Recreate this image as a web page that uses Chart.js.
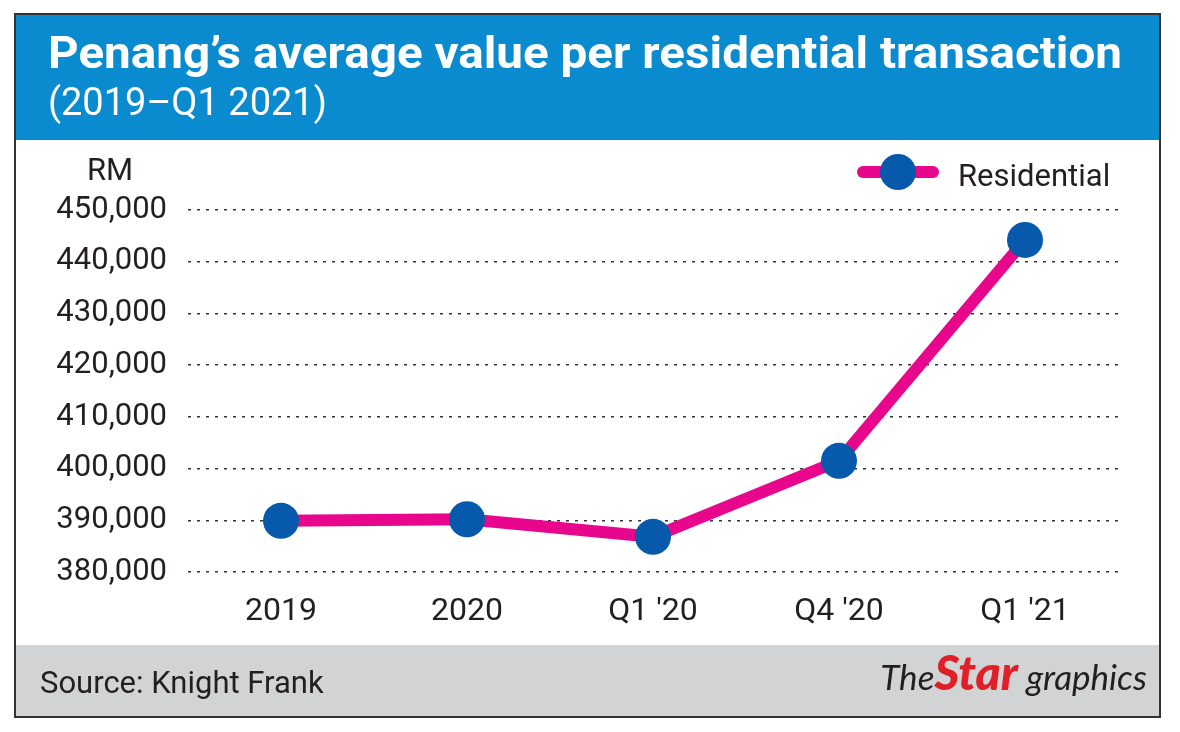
<!DOCTYPE html>
<html>
<head>
<meta charset="utf-8">
<script src="https://cdn.jsdelivr.net/npm/chart.js@4"></script>
<style>
  html, body { margin: 0; padding: 0; background: #fff; }
  #wrap { width: 1180px; height: 732px; position: relative; }
</style>
</head>
<body>
<div id="wrap"><canvas id="grafico" width="1180" height="732"></canvas></div>
<script>
// dados do gráfico
const periodos = ["2019", "2020", "Q1 '20", "Q4 '20", "Q1 '21"];
const valoresResidencial = [389900, 390200, 386800, 401500, 444200];
const ticksY = [380000, 390000, 400000, 410000, 420000, 430000, 440000, 450000];

const titulo = "Penang’s average value per residential transaction";
const subtitulo = "(2019–Q1 2021)";
const fonte = "Source: Knight Frank";

const corRosa = "#e8078c";
const corAzul = "#0659ab";
const corCabecalho = "#0b8bcf";
const corRodape = "#d1d3d4";
const corTexto = "#231f20";

// moldura, cabeçalho e rodapé
const moldura = {
  id: "moldura",
  beforeDraw(chart) {
    const ctx = chart.ctx;
    ctx.save();
    ctx.fillStyle = "#fff";
    ctx.fillRect(0, 0, chart.width, chart.height);
    ctx.fillStyle = corCabecalho;
    ctx.fillRect(15, 14, 1145, 126);
    ctx.fillStyle = corRodape;
    ctx.fillRect(15, 645, 1145, 72);
    ctx.strokeStyle = "#333";
    ctx.lineWidth = 2;
    ctx.strokeRect(15, 14, 1145, 703);

    ctx.fillStyle = "#fff";
    ctx.textBaseline = "alphabetic";
    ctx.font = "bold 44px Roboto";
    let w = ctx.measureText(titulo).width;
    ctx.save();
    ctx.translate(48, 68);
    ctx.scale(1074 / w, 1);
    ctx.fillText(titulo, 0, 0);
    ctx.restore();
    ctx.font = "38px Roboto";
    ctx.fillText(subtitulo, 48, 115);

    ctx.fillStyle = corTexto;
    ctx.font = "31px Roboto";
    ctx.textAlign = "center";
    ctx.fillText("RM", 110, 180);
    ctx.textAlign = "left";
    ctx.fillText(fonte, 40, 693);

    // logo
    ctx.font = "italic 35px Lato";
    const wThe = ctx.measureText("The").width;
    const wGraf = ctx.measureText(" graphics").width;
    ctx.font = "italic 900 48px Lato";
    const wStar = ctx.measureText("Star").width;
    let x = 1147 - wThe - wStar - wGraf;
    ctx.fillStyle = corTexto;
    ctx.font = "italic 35px Lato";
    ctx.fillText("The", x, 690);
    x += wThe;
    ctx.fillStyle = "#e21f26";
    ctx.font = "italic 900 48px Lato";
    ctx.fillText("Star", x, 690);
    x += wStar;
    ctx.fillStyle = corTexto;
    ctx.font = "italic 35px Lato";
    ctx.fillText(" graphics", x, 690);
    ctx.restore();
  },
  afterDraw(chart) {
    // legenda
    const ctx = chart.ctx;
    ctx.save();
    ctx.strokeStyle = corRosa;
    ctx.lineWidth = 12;
    ctx.lineCap = "round";
    ctx.beginPath();
    ctx.moveTo(863, 172);
    ctx.lineTo(933, 172);
    ctx.stroke();
    ctx.fillStyle = corAzul;
    ctx.beginPath();
    ctx.arc(898, 172, 18, 0, Math.PI * 2);
    ctx.fill();
    ctx.fillStyle = corTexto;
    ctx.font = "31px Roboto";
    ctx.textBaseline = "alphabetic";
    ctx.fillText("Residential", 958, 186);
    ctx.restore();
  },
};

new Chart(document.getElementById("grafico"), {
  type: "line",
  data: {
    labels: periodos,
    datasets: [
      {
        label: "Residential",
        data: valoresResidencial,
        borderColor: corRosa,
        borderWidth: 12,
        pointRadius: 18,
        pointBackgroundColor: corAzul,
        pointBorderWidth: 0,
        tension: 0,
        clip: false,
      },
    ],
  },
  options: {
    responsive: false,
    animation: false,
    layout: { padding: { left: 0, right: 62, top: 210, bottom: 100 } },
    plugins: {
      legend: { display: false },
      title: { display: false },
      tooltip: { enabled: false },
    },
    scales: {
      y: {
        min: 380000,
        max: 450000,
        afterFit: (scale) => { scale.width = 188; },
        afterBuildTicks: (scale) => { scale.ticks = ticksY.map((v) => ({ value: v })); },
        grid: {
          color: "#333",
          lineWidth: 1.5,
          drawTicks: false,
        },
        border: { display: false, dash: [3, 6] },
        ticks: {
          padding: 21,
          color: corTexto,
          font: { family: "Roboto", size: 31 },
          callback: (v) => v.toLocaleString("en-US"),
        },
      },
      x: {
        offset: true,
        afterFit: (scale) => { scale.height = 60; },
        grid: { display: false, drawTicks: false },
        border: { display: false },
        ticks: {
          padding: 21,
          color: corTexto,
          font: { family: "Roboto", size: 32 },
        },
      },
    },
  },
  plugins: [moldura],
});
</script>
</body>
</html>
